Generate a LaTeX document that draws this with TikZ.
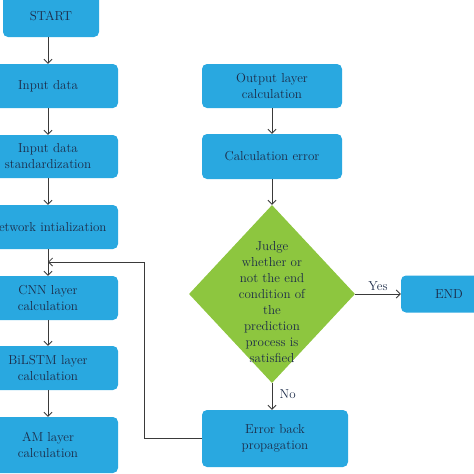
\documentclass[tikz,border=0pt]{standalone}
\usetikzlibrary{shapes.geometric, positioning}
\usetikzlibrary{arrows.meta}
\definecolor{boxblue}{HTML}{29A8E0}
\definecolor{judgegreen}{HTML}{8DC63F}
\definecolor{inkblue}{HTML}{1C2B48}
\definecolor{linegray}{HTML}{3A3A3A}

\begin{document}
\begin{tikzpicture}[x=1pt,y=-1pt]
				\tikzstyle{stage}=[fill=boxblue,draw=none,rounded corners=5pt,text=inkblue,align=center,font=\fontsize{13}{16}\selectfont,minimum width=140pt,minimum height=44pt,inner sep=2pt]
				\tikzstyle{flow}=[draw=linegray,line width=0.8pt,-{Straight Barb[length=4pt,width=8pt]}]

				\useasboundingbox (0,0) rectangle (474,474);
				\node [stage, minimum width=96pt, minimum height=42pt] (start) at (51,16) {START};
				\node [stage] (input) at (48,86) {Input data};
				\node [stage, minimum height=43pt] (std) at (48,156.5) {Input data\\standardization};
				\node [stage] (netinit) at (48,227) {Network intialization};
				\node [stage] (cnn) at (48,298) {CNN layer\\calculation};
				\node [stage] (bilstm) at (48,368) {BiLSTM layer\\calculation};
				\node [stage, minimum height=56pt] (am) at (48,445) {AM layer\\calculation};

				\node [stage] (output) at (272,86) {Output layer\\calculation};
				\node [stage, minimum height=45pt] (calcerr) at (272,156.5) {Calculation error};
				\node [diamond, fill=judgegreen, draw=none, minimum width=166pt, minimum height=178pt, inner sep=0pt] (judge) at (272,294) {};
				\node [text=inkblue, align=center, font=\fontsize{13}{16}\selectfont] (judgetext) at (272,302) {Judge\\whether or\\not the end\\condition of\\the\\prediction\\process is\\satisfied};
				\node [stage, minimum width=96pt, minimum height=37pt] (endbox) at (449,294) {END};
				\node [stage, minimum width=146pt, minimum height=57pt] (errback) at (275,438.5) {Error back\\propagation};
				\coordinate (loop) at (144,262);

				\draw[flow] (input.north |- start.south) -- (input.north);
				\draw[flow] (input) -- (std);
				\draw[flow] (std) -- (netinit);
				\draw[flow] (netinit) -- (cnn);
				\draw[flow] (cnn) -- (bilstm);
				\draw[flow] (bilstm) -- (am);
				\draw[flow] (output) -- (calcerr);
				\draw[flow] (calcerr) -- (judge.north);
				\draw[flow] (judge.east) -- (judge.east -| endbox.west) node[pos=0.5, above, text=inkblue, font=\fontsize{13}{16}\selectfont] {Yes};
				\draw[flow] (judge.south) -- (judge.south |- errback.north) node[pos=0.4, right=4pt, text=inkblue, font=\fontsize{13}{16}\selectfont] {No};
				\draw[flow] (errback.west) -| (loop) -- (loop -| cnn.north);
			\end{tikzpicture}
\end{document}
